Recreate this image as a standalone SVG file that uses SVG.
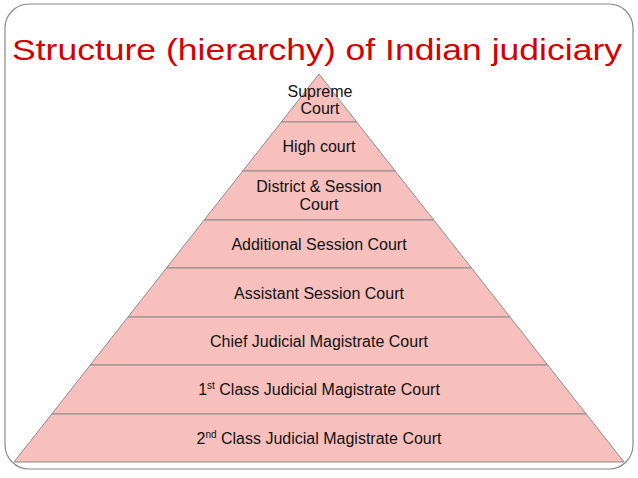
<svg xmlns="http://www.w3.org/2000/svg" width="638" height="478" viewBox="0 0 638 478">
<style>
.band{fill:#f8c0bd;stroke:#8c8c8c;stroke-width:1}
.t{font-family:"Liberation Sans",Arial,sans-serif;font-size:16px;fill:#111;text-anchor:middle}
.sup{font-size:10px}
</style>
<rect x="0" y="0" width="638" height="478" fill="#fff"/>
<rect x="5" y="4" width="628" height="465" rx="24" fill="none" stroke="#8a8a8a" stroke-width="1.2"/>
<text x="12" y="60" font-family="Liberation Sans,Arial,sans-serif" font-size="30" fill="#d40000" textLength="610" lengthAdjust="spacingAndGlyphs">Structure (hierarchy) of Indian judiciary</text>
<g id="n1"><polygon class="band" points="319,74 356.7,122 281.3,122"/><text class="t" x="320" y="97">Supreme</text><text class="t" x="320" y="114">Court</text></g>
<g id="n2"><polygon class="band" points="281.3,122 356.7,122 395.2,171 242.8,171"/><text class="t" x="319" y="152">High court</text></g>
<g id="n3"><polygon class="band" points="242.8,171 395.2,171 433.8,220 204.2,220"/><text class="t" x="319" y="192">District &amp; Session</text><text class="t" x="319" y="210">Court</text></g>
<g id="n4"><polygon class="band" points="204.2,220 433.8,220 471.5,268 166.5,268"/><text class="t" x="319" y="250">Additional Session Court</text></g>
<g id="n5"><polygon class="band" points="166.5,268 471.5,268 510,317 128,317"/><text class="t" x="319" y="299">Assistant Session Court</text></g>
<g id="n6"><polygon class="band" points="128,317 510,317 547.7,365 90.3,365"/><text class="t" x="319" y="347">Chief Judicial Magistrate Court</text></g>
<g id="n7"><polygon class="band" points="90.3,365 547.7,365 586.2,414 51.8,414"/><text class="t" x="319" y="395">1<tspan class="sup" dy="-6">st</tspan><tspan dy="6"> Class Judicial Magistrate Court</tspan></text></g>
<g id="n8"><polygon class="band" points="51.8,414 586.2,414 624,462 14,462"/><text class="t" x="319" y="444">2<tspan class="sup" dy="-6">nd</tspan><tspan dy="6"> Class Judicial Magistrate Court</tspan></text></g>
<g id="connectors"></g>
</svg>
